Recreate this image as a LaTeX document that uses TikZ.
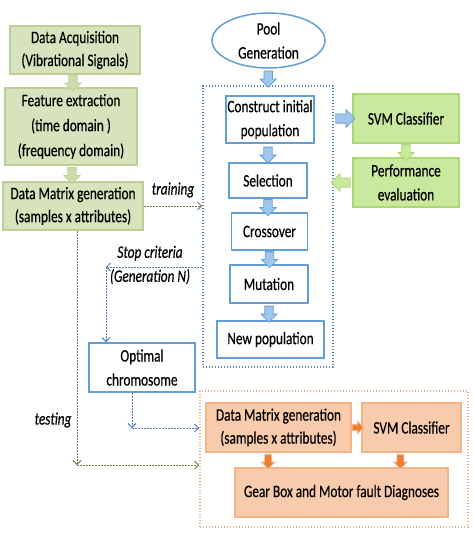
\documentclass[tikz,border=0pt]{standalone}
\usepackage{fontspec}
\setmainfont{Carlito}[FakeStretch=0.76,FakeBold=0.4]
\usetikzlibrary{shapes.geometric,shapes.arrows,arrows.meta,calc}
\definecolor{olivefill}{RGB}{215,227,188}
\definecolor{oliveline}{RGB}{190,206,148}
\definecolor{olivearr}{RGB}{205,219,168}
\definecolor{bluel}{RGB}{100,158,215}
\definecolor{bluefill}{RGB}{160,198,235}
\definecolor{greenfill}{RGB}{200,233,158}
\definecolor{greenline}{RGB}{172,216,115}
\definecolor{orfill}{RGB}{248,203,173}
\definecolor{orline}{RGB}{244,180,136}
\definecolor{orarrow}{RGB}{237,125,49}
\definecolor{dotblue}{RGB}{85,130,190}
\definecolor{dotor}{RGB}{228,178,140}
\definecolor{olivedash}{RGB}{115,122,80}
\definecolor{bluedash}{RGB}{85,125,190}
\tikzset{
  box/.style={draw, line width=1.5pt, align=center, inner sep=0pt,
    font=\fontsize{17.5}{23}\selectfont},
  olivebox/.style={box, draw=oliveline, fill=olivefill},
  bluebox/.style={box, draw=bluel, fill=white},
  greenbox/.style={box, draw=greenline, fill=greenfill},
  orbox/.style={box, draw=orline, fill=orfill},
  fat/.style={single arrow, line width=0.8pt, inner sep=3.8pt,
    single arrow head extend=3.8pt, minimum height=16pt, anchor=center},
  oarr/.style={fat, draw=oliveline, fill=olivearr},
  barr/.style={fat, draw=bluel, fill=bluefill},
  garr/.style={fat, draw=greenline, fill=greenfill},
  rarr/.style={fat, draw=orline, fill=orarrow, inner sep=3pt, single arrow head extend=3.2pt, minimum height=14pt},
  dotframe/.style={draw, line width=1.6pt, dash pattern=on 1.4pt off 1.6pt, inner sep=0pt},
  conn/.style={line width=0.9pt, dash pattern=on 2pt off 1pt, -{Straight Barb[length=4pt,width=8pt]}},
  lab/.style={font=\fontsize{17.5}{24}\selectfont\itshape, align=center, inner sep=0pt}
}
\begin{document}
\begin{tikzpicture}[x=1pt,y=-1pt]
\useasboundingbox (0,0) rectangle (474,533);
% left column
\node[olivebox, minimum width=130, minimum height=48] (acq) at (75,50) {Data Acquisition\\(Vibrational Signals)};
\node[olivebox, minimum width=132, minimum height=77, font=\fontsize{17.5}{25}\selectfont] (feat) at (71,126.5) {Feature extraction\\(time domain )\\(frequency domain)};
\node[olivebox, minimum width=140, minimum height=48] (dm) at (73,206) {Data Matrix generation\\(samples x attributes)};
\path (acq.south) -- (feat.north) node[midway, oarr, rotate=-90] {};
\path (feat.south) -- (dm.north) node[midway, oarr, rotate=-90] {};
% GA
\node[ellipse, draw=bluel, line width=1.5pt, fill=white, minimum width=113, minimum height=55, inner sep=0pt, align=center, font=\fontsize{17.5}{24}\selectfont] (pool) at (268.5,40.5) {Pool\\Generation};
\node[dotframe, draw=dotblue, minimum width=130, minimum height=281] (ga) at (268,226.5) {};
\node[bluebox, minimum width=88, minimum height=47, font=\fontsize{17.5}{24}\selectfont] (init) at (270,119.5) {Construct initial\\population};
\node[bluebox, minimum width=78, minimum height=35] (sel) at (268,180.5) {Selection};
\node[bluebox, minimum width=76, minimum height=37] (cross) at (269.5,231.5) {Crossover};
\node[bluebox, minimum width=78, minimum height=38] (mut) at (269,284) {Mutation};
\node[bluebox, minimum width=107, minimum height=37] (newp) at (270.5,339.5) {New population};
\path (pool.south) -- (ga.north) node[midway, barr, rotate=-90] {};
\path (init.south -| sel.north) -- (sel.north) node[midway, barr, rotate=-90] {};
\path (sel.south) -- (cross.north -| sel.south) node[midway, barr, rotate=-90] {};
\path (cross.south) -- (mut.north -| cross.south) node[midway, barr, rotate=-90] {};
\path (mut.south) -- (newp.north -| mut.south) node[midway, barr, rotate=-90] {};
% SVM loop
\node[greenbox, minimum width=106, minimum height=49] (svm) at (406,118.5) {SVM Classifier};
\node[greenbox, minimum width=106, minimum height=49, font=\fontsize{17.5}{24}\selectfont] (perf) at (406,182.5) {Performance\\evaluation};
\path (ga.east |- svm.west) -- (svm.west) node[midway, barr, minimum height=19pt, inner sep=4.2pt, single arrow head extend=4.2pt] {};
\path (svm.south) -- (perf.north) node[midway, garr, rotate=-90] {};
\path (perf.west) -- (ga.east |- perf.west) node[midway, garr, rotate=180, minimum height=19pt, inner sep=4.2pt, single arrow head extend=4.2pt] {};
% optimal chromosome
\node[bluebox, minimum width=106, minimum height=49, font=\fontsize{17.5}{24}\selectfont] (chrom) at (142,367.5) {Optimal\\chromosome};
% orange block
\node[dotframe, draw=dotor, minimum width=268, minimum height=136] (test) at (334,459) {};
\node[orbox, minimum width=145, minimum height=49] (odm) at (278.5,427.5) {Data Matrix generation\\(samples x attributes)};
\node[orbox, minimum width=99, minimum height=49] (osvm) at (411.5,427.5) {SVM Classifier};
\node[orbox, minimum width=213, minimum height=49] (gear) at (341.5,492.5) {Gear Box and Motor fault Diagnoses};
\path (odm.east) -- (osvm.west) node[midway, rarr, minimum height=11pt, inner sep=2.5pt] {};
\coordinate (oa) at ($(odm.south west)!0.43!(odm.south east)$);
\coordinate (ob) at ($(osvm.south west)!0.39!(osvm.south east)$);
\path (oa) -- (gear.north -| oa) node[midway, rarr, rotate=-90] {};
\path (ob) -- (gear.north -| ob) node[midway, rarr, rotate=-90] {};
% connectors
\draw[conn, draw=olivedash] (dm.east) -- (ga.west |- dm.east);
\node[lab] (ltrain) at (173,190) {training};
\coordinate (sc) at (106,267);
\draw[conn, draw=bluedash] (ga.west |- sc) -- (sc);
\draw[conn, draw=bluedash] (sc) -- (chrom.north -| sc);
\node[lab] (lstop) at (150,265) {Stop criteria\\(Generation N)};
\coordinate (cc) at (132,428);
\draw[conn, draw=bluedash] (chrom.south -| cc) -- (cc);
\draw[conn, draw=bluedash] (cc) -- (test.west |- cc);
\coordinate (tc) at (77,465);
\draw[conn, draw=olivedash] (dm.south -| tc) -- (tc);
\draw[conn, draw=olivedash] (tc) -- (test.west |- tc);
\node[lab] (ltest) at (53,420) {testing};
\end{tikzpicture}
\end{document}
